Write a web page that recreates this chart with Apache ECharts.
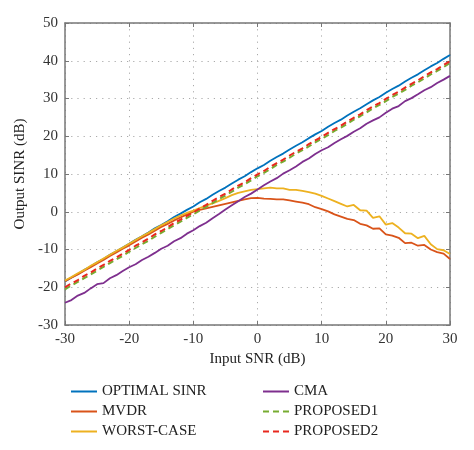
<!DOCTYPE html>
<html>
<head>
<meta charset="utf-8">
<script src="https://cdn.jsdelivr.net/npm/echarts@6/dist/echarts.min.js"></script>
<style>
  html, body { margin: 0; padding: 0; background: #fff; }
  #chart { width: 474px; height: 450px; }
</style>
</head>
<body>
<div id="chart"></div>
<script>
// Input SNR (dB), 1 dB steps
const snr = [-30, -29, -28, -27, -26, -25, -24, -23, -22, -21,
  -20, -19, -18, -17, -16, -15, -14, -13, -12, -11,
  -10, -9, -8, -7, -6, -5, -4, -3, -2, -1,
  0, 1, 2, 3, 4, 5, 6, 7, 8, 9,
  10, 11, 12, 13, 14, 15, 16, 17, 18, 19,
  20, 21, 22, 23, 24, 25, 26, 27, 28, 29, 30]

// Output SINR (dB)
const optimal = [-18.5, -17.4, -16.5, -15.4, -14.5, -13.4, -12.5, -11.4, -10.5, -9.5,
  -8.5, -7.4, -6.5, -5.5, -4.4, -3.5, -2.5, -1.4, -0.5, 0.5,
  1.4, 2.5, 3.4, 4.5, 5.5, 6.4, 7.5, 8.5, 9.4, 10.5,
  11.5, 12.4, 13.5, 14.5, 15.4, 16.5, 17.5, 18.4, 19.5, 20.5,
  21.4, 22.5, 23.5, 24.4, 25.5, 26.5, 27.4, 28.5, 29.5, 30.4,
  31.5, 32.5, 33.4, 34.5, 35.5, 36.4, 37.5, 38.5, 39.4, 40.5, 41.5]

const mvdr = [-18.4, -17.5, -16.6, -15.6, -14.7, -13.7, -12.8, -11.7, -10.8, -9.8,
  -8.9, -7.9, -6.9, -6.0, -5.0, -4.0, -3.2, -2.3, -1.5, -0.7,
  0.0, 0.5, 0.9, 1.3, 1.7, 2.1, 2.5, 2.9, 3.3, 3.6,
  3.7, 3.5, 3.4, 3.3, 3.3, 3.0, 2.7, 2.4, 2.0, 1.2,
  0.7, 0.1, -0.7, -1.3, -1.9, -2.2, -3.2, -3.6, -4.5, -4.4,
  -6.0, -6.3, -6.9, -8.3, -8.2, -9.0, -8.8, -10.0, -10.7, -11.1, -12.5]

const worstCase = [-18.2, -17.3, -16.3, -15.4, -14.3, -13.4, -12.4, -11.4, -10.4, -9.5,
  -8.5, -7.5, -6.5, -5.6, -4.6, -3.6, -2.7, -1.8, -1.0, -0.3,
  0.3, 1.0, 1.6, 2.2, 2.9, 3.6, 4.4, 5.0, 5.4, 5.8,
  6.0, 6.2, 6.4, 6.2, 6.2, 5.8, 5.8, 5.5, 5.2, 4.8,
  4.2, 3.5, 2.8, 2.1, 1.4, 1.8, 0.4, 0.3, -1.6, -1.2,
  -3.4, -3.0, -4.2, -5.7, -5.8, -7.0, -6.4, -8.6, -9.9, -10.2, -11.2]

const cma = [-24.1, -23.4, -22.2, -21.5, -20.3, -19.2, -18.9, -17.6, -16.8, -15.7,
  -14.7, -13.9, -12.8, -11.9, -10.9, -9.8, -9.0, -7.8, -7.0, -5.8,
  -4.9, -3.8, -2.9, -1.7, -0.6, 0.6, 1.7, 2.8, 3.9, 4.8,
  5.9, 7.0, 8.0, 8.9, 10.1, 11.0, 12.0, 13.2, 14.1, 15.3,
  16.3, 17.1, 18.2, 19.2, 20.1, 21.2, 22.1, 23.3, 24.2, 25.0,
  26.2, 27.3, 28.0, 29.3, 30.1, 31.1, 32.2, 33.0, 34.1, 35.0, 36.0]

const proposed1 = [-20.6, -19.5, -18.6, -17.6, -16.6, -15.6, -14.6, -13.6, -12.6, -11.7,
  -10.6, -9.6, -8.6, -7.7, -6.6, -5.6, -4.6, -3.6, -2.6, -1.6,
  -0.7, 0.3, 1.3, 2.3, 3.4, 4.3, 5.3, 6.4, 7.3, 8.3,
  9.4, 10.3, 11.3, 12.4, 13.3, 14.3, 15.4, 16.3, 17.3, 18.4,
  19.3, 20.3, 21.4, 22.3, 23.3, 24.4, 25.3, 26.3, 27.4, 28.3,
  29.3, 30.4, 31.3, 32.3, 33.4, 34.3, 35.3, 36.4, 37.3, 38.3, 39.4]

const proposed2 = [-20.0, -19.0, -18.1, -17.0, -16.1, -15.0, -14.1, -13.0, -12.1, -11.1,
  -10.1, -9.0, -8.1, -7.1, -6.0, -5.1, -4.1, -3.0, -2.1, -1.1,
  -0.2, 0.9, 1.8, 2.9, 3.9, 4.8, 5.9, 6.9, 7.8, 8.9,
  9.9, 10.8, 11.9, 12.9, 13.8, 14.9, 15.9, 16.8, 17.9, 18.9,
  19.8, 20.9, 21.9, 22.8, 23.9, 24.9, 25.8, 26.9, 27.9, 28.8,
  29.9, 30.9, 31.8, 32.9, 33.9, 34.8, 35.9, 36.9, 37.8, 38.9, 39.9]

const seriesNames = ['OPTIMAL SINR', 'MVDR', 'WORST-CASE', 'CMA', 'PROPOSED1', 'PROPOSED2']

const FONT = '"Liberation Serif", "DejaVu Serif", serif'
const AXIS_COLOR = '#777'

function pairs (ys) {
  return snr.map((x, i) => [x, ys[i]])
}

function lineSeries (name, ys, color, dashed) {
  return {
    name: name,
    type: 'line',
    data: pairs(ys),
    showSymbol: false,
    symbol: 'none',
    smooth: false,
    lineStyle: {
      color: color,
      width: dashed ? 2 : 1.8,
      type: dashed ? [6, 4] : 'solid'
    },
    itemStyle: { color: color },
    emphasis: { disabled: true }
  }
}

const myChart = echarts.init(document.getElementById('chart'))

// top / right frame with inward ticks
const frameAxis = {
  type: 'value',
  axisLine: { show: true, onZero: false, lineStyle: { color: AXIS_COLOR, width: 1.5 } },
  axisTick: { show: true, inside: true, length: 4, lineStyle: { color: AXIS_COLOR } },
  axisLabel: { show: false },
  splitLine: { show: false }
}

const legendBase = {
  orient: 'vertical',
  top: 379,
  itemWidth: 26,
  itemHeight: 14,
  itemGap: 5,
  itemStyle: { opacity: 0 },
  textStyle: { fontFamily: FONT, fontSize: 15, color: '#222' }
}

myChart.setOption({
  animation: false,
  backgroundColor: '#fff',
  grid: {
    left: 65,
    right: 24,
    top: 23,
    bottom: 125
  },
  legend: [
    Object.assign({}, legendBase, { left: 65, data: seriesNames.slice(0, 3) }),
    Object.assign({}, legendBase, { left: 257, data: seriesNames.slice(3) })
  ],
  xAxis: [
    {
      type: 'value',
      min: -30,
      max: 30,
      interval: 10,
      name: 'Input SNR (dB)',
      nameLocation: 'middle',
      nameGap: 27,
      nameTextStyle: { fontFamily: FONT, fontSize: 15, color: '#222' },
      axisLine: { show: true, onZero: false, lineStyle: { color: AXIS_COLOR, width: 1.5 } },
      axisTick: { show: true, inside: true, length: 4, lineStyle: { color: AXIS_COLOR } },
      axisLabel: { fontFamily: FONT, fontSize: 15, color: '#333', margin: 7 },
      splitLine: { show: true, lineStyle: { color: '#aaa', type: [1.2, 5], width: 1 } }
    },
    Object.assign({}, frameAxis, { position: 'top', min: -30, max: 30, interval: 10 })
  ],
  yAxis: [
    {
      type: 'value',
      min: -30,
      max: 50,
      interval: 10,
      name: 'Output SINR (dB)',
      nameLocation: 'middle',
      nameGap: 37,
      nameRotate: 90,
      nameTextStyle: { fontFamily: FONT, fontSize: 15, color: '#222' },
      axisLine: { show: true, onZero: false, lineStyle: { color: AXIS_COLOR, width: 1.5 } },
      axisTick: { show: true, inside: true, length: 4, lineStyle: { color: AXIS_COLOR } },
      axisLabel: { fontFamily: FONT, fontSize: 15, color: '#333', margin: 7 },
      splitLine: { show: true, lineStyle: { color: '#aaa', type: [1.2, 5], width: 1 } }
    },
    Object.assign({}, frameAxis, { position: 'right', min: -30, max: 50, interval: 10 })
  ],
  series: [
    lineSeries(seriesNames[0], optimal, '#0072BD', false),
    lineSeries(seriesNames[1], mvdr, '#D95319', false),
    lineSeries(seriesNames[2], worstCase, '#EDB120', false),
    lineSeries(seriesNames[3], cma, '#7E2F8E', false),
    lineSeries(seriesNames[4], proposed1, '#77AC30', true),
    lineSeries(seriesNames[5], proposed2, '#E8281E', true)
  ]
})
</script>
</body>
</html>
